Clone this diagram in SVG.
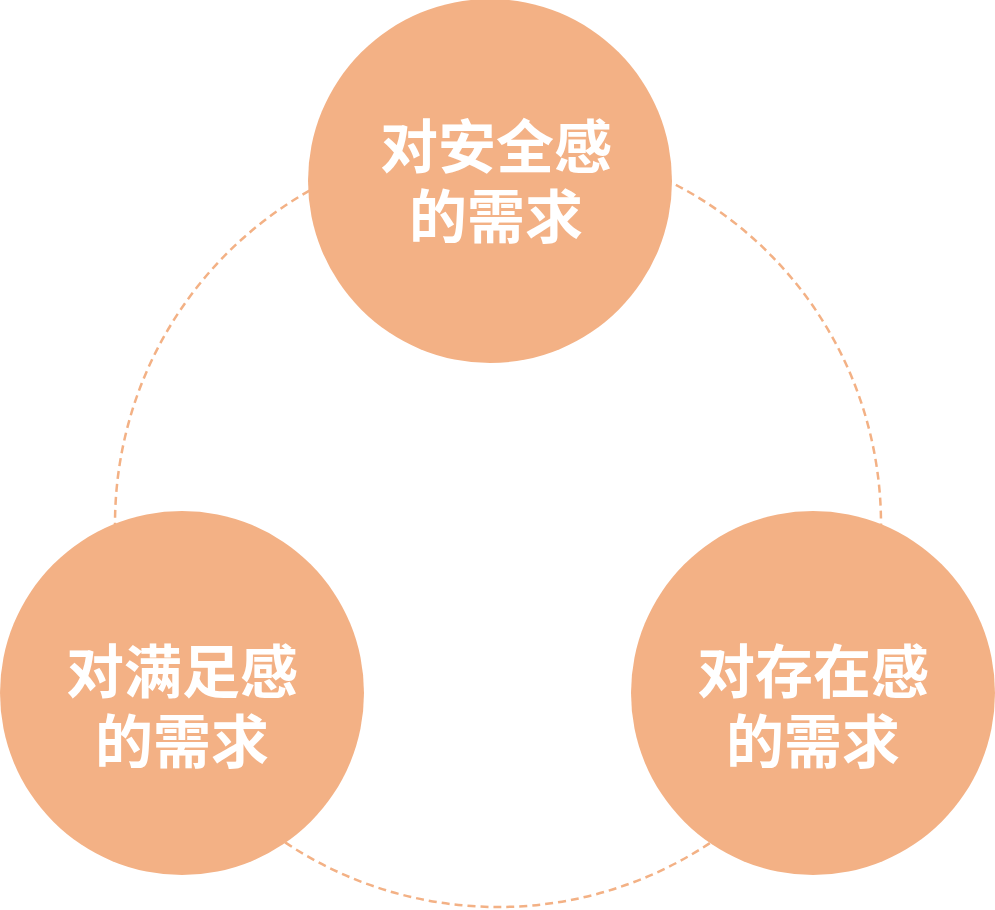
<svg xmlns="http://www.w3.org/2000/svg" width="995" height="910" viewBox="0 0 995 910">
<style>
.node{fill:#F3B185}
.lbl{fill:#fff;font-family:"Noto Sans CJK SC","Noto Sans",sans-serif;font-weight:700;font-size:58px;text-anchor:middle}
.ring{fill:none;stroke:#F3B185;stroke-width:2.5;stroke-dasharray:8 5}
</style>
<rect width="995" height="910" fill="#fff"/>
<g id="connectors">
<circle class="ring" cx="498" cy="524" r="383"/>
</g>
<g id="node-top">
<circle class="node" cx="490" cy="181" r="182"/>
<text class="lbl"><tspan x="496" y="168">对安全感</tspan><tspan x="496" y="238">的需求</tspan></text>
</g>
<g id="node-left">
<circle class="node" cx="182" cy="693" r="182"/>
<text class="lbl"><tspan x="182" y="693">对满足感</tspan><tspan x="182" y="763">的需求</tspan></text>
</g>
<g id="node-right">
<circle class="node" cx="813" cy="693" r="182"/>
<text class="lbl"><tspan x="813" y="693">对存在感</tspan><tspan x="813" y="763">的需求</tspan></text>
</g>
</svg>
